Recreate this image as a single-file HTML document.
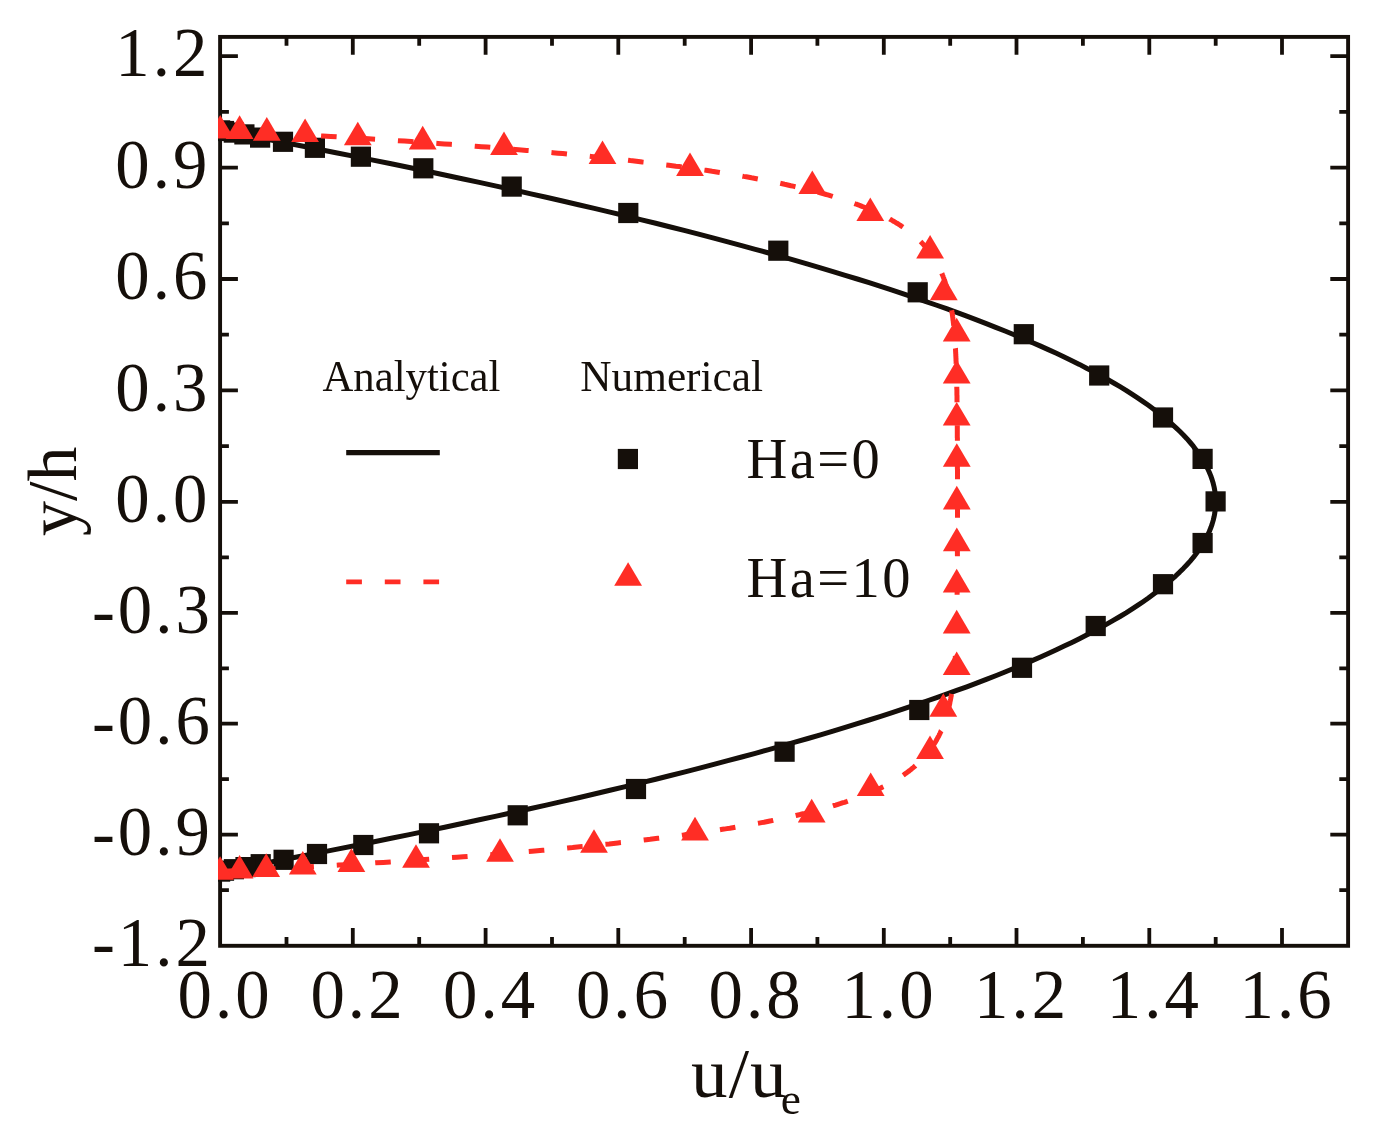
<!DOCTYPE html>
<html lang="en"><head><meta charset="utf-8"><title>Velocity profile</title>
<style>html,body{margin:0;padding:0;background:#fff;overflow:hidden}svg{display:block}text{font-family:"Liberation Serif","Times New Roman",serif;fill:#150f0a}</style>
</head><body>
<svg width="1380" height="1141" viewBox="0 0 1380 1141">
<rect width="1380" height="1141" fill="#ffffff"/>
<g stroke="#150f0a" stroke-width="3.8" fill="none">
<path d="M286.5 945.8V937.0 M286.5 36.9V45.7"/>
<path d="M352.8 945.8V928.0 M352.8 36.9V54.7"/>
<path d="M419.2 945.8V937.0 M419.2 36.9V45.7"/>
<path d="M485.6 945.8V928.0 M485.6 36.9V54.7"/>
<path d="M552.0 945.8V937.0 M552.0 36.9V45.7"/>
<path d="M618.3 945.8V928.0 M618.3 36.9V54.7"/>
<path d="M684.7 945.8V937.0 M684.7 36.9V45.7"/>
<path d="M751.1 945.8V928.0 M751.1 36.9V54.7"/>
<path d="M817.4 945.8V937.0 M817.4 36.9V45.7"/>
<path d="M883.8 945.8V928.0 M883.8 36.9V54.7"/>
<path d="M950.2 945.8V937.0 M950.2 36.9V45.7"/>
<path d="M1016.5 945.8V928.0 M1016.5 36.9V54.7"/>
<path d="M1082.9 945.8V937.0 M1082.9 36.9V45.7"/>
<path d="M1149.3 945.8V928.0 M1149.3 36.9V54.7"/>
<path d="M1215.7 945.8V937.0 M1215.7 36.9V45.7"/>
<path d="M1282.0 945.8V928.0 M1282.0 36.9V54.7"/>
<path d="M220.1 890.1H228.9 M1348.1 890.1H1339.3"/>
<path d="M220.1 834.6H237.9 M1348.1 834.6H1330.3"/>
<path d="M220.1 779.2H228.9 M1348.1 779.2H1339.3"/>
<path d="M220.1 723.7H237.9 M1348.1 723.7H1330.3"/>
<path d="M220.1 668.3H228.9 M1348.1 668.3H1339.3"/>
<path d="M220.1 612.8H237.9 M1348.1 612.8H1330.3"/>
<path d="M220.1 557.4H228.9 M1348.1 557.4H1339.3"/>
<path d="M220.1 501.9H237.9 M1348.1 501.9H1330.3"/>
<path d="M220.1 446.2H228.9 M1348.1 446.2H1339.3"/>
<path d="M220.1 390.4H237.9 M1348.1 390.4H1330.3"/>
<path d="M220.1 334.7H228.9 M1348.1 334.7H1339.3"/>
<path d="M220.1 279.0H237.9 M1348.1 279.0H1330.3"/>
<path d="M220.1 223.3H228.9 M1348.1 223.3H1339.3"/>
<path d="M220.1 167.6H237.9 M1348.1 167.6H1330.3"/>
<path d="M220.1 111.8H228.9 M1348.1 111.8H1339.3"/>
<path d="M220.1 56.1H237.9 M1348.1 56.1H1330.3"/>
</g>
<rect x="220.1" y="36.9" width="1128.0" height="908.9" fill="none" stroke="#150f0a" stroke-width="3.9"/>
<clipPath id="pc"><rect x="218" y="36.9" width="1130.1" height="908.9"/></clipPath>
<g clip-path="url(#pc)">
<polyline fill="none" stroke="#150f0a" stroke-width="5" stroke-linejoin="round" points="220.1,130.4 239.9,134.1 259.5,137.8 278.9,141.5 298.2,145.3 317.2,149.0 336.0,152.7 354.6,156.4 373.0,160.1 391.2,163.8 409.3,167.5 427.1,171.3 444.7,175.0 462.1,178.7 479.3,182.4 496.4,186.1 513.2,189.8 529.8,193.6 546.2,197.3 562.5,201.0 578.5,204.7 594.3,208.4 610.0,212.1 625.4,215.8 640.6,219.6 655.7,223.3 670.5,227.0 685.1,230.7 699.6,234.4 713.8,238.1 727.8,241.8 741.7,245.6 755.3,249.3 768.7,253.0 782.0,256.7 795.0,260.4 807.9,264.1 820.5,267.9 833.0,271.6 845.2,275.3 857.3,279.0 869.1,282.7 880.7,286.4 892.2,290.1 903.4,293.9 914.5,297.6 925.3,301.3 936.0,305.0 946.5,308.7 956.7,312.4 966.8,316.1 976.6,319.9 986.3,323.6 995.7,327.3 1005.0,331.0 1014.1,334.7 1022.9,338.4 1031.6,342.2 1040.0,345.9 1048.3,349.6 1056.4,353.3 1064.2,357.0 1071.9,360.7 1079.4,364.4 1086.6,368.2 1093.7,371.9 1100.6,375.6 1107.2,379.3 1113.7,383.0 1120.0,386.7 1126.1,390.4 1131.9,394.2 1137.6,397.9 1143.1,401.6 1148.4,405.3 1153.4,409.0 1158.3,412.7 1163.0,416.5 1167.5,420.2 1171.7,423.9 1175.8,427.6 1179.7,431.3 1183.4,435.0 1186.9,438.7 1190.2,442.5 1193.3,446.2 1196.1,449.9 1198.8,453.6 1201.3,457.3 1203.6,461.0 1205.7,464.8 1207.6,468.5 1209.3,472.2 1210.8,475.9 1212.1,479.6 1213.2,483.3 1214.1,487.0 1214.8,490.8 1215.3,494.5 1215.6,498.2 1215.7,501.9 1215.6,505.6 1215.3,509.3 1214.8,513.0 1214.1,516.7 1213.2,520.4 1212.1,524.1 1210.8,527.8 1209.3,531.5 1207.6,535.2 1205.7,538.9 1203.6,542.6 1201.3,546.3 1198.8,550.0 1196.1,553.7 1193.3,557.4 1190.2,561.1 1186.9,564.7 1183.4,568.4 1179.7,572.1 1175.8,575.8 1171.7,579.5 1167.5,583.2 1163.0,586.9 1158.3,590.6 1153.4,594.3 1148.4,598.0 1143.1,601.7 1137.6,605.4 1131.9,609.1 1126.1,612.8 1120.0,616.5 1113.7,620.2 1107.2,623.9 1100.6,627.6 1093.7,631.3 1086.6,635.0 1079.4,638.7 1071.9,642.4 1064.2,646.1 1056.4,649.8 1048.3,653.5 1040.0,657.2 1031.6,660.9 1022.9,664.6 1014.1,668.3 1005.0,672.0 995.7,675.7 986.3,679.4 976.6,683.1 966.8,686.8 956.7,690.4 946.5,694.1 936.0,697.8 925.3,701.5 914.5,705.2 903.4,708.9 892.2,712.6 880.7,716.3 869.1,720.0 857.3,723.7 845.2,727.4 833.0,731.1 820.5,734.8 807.9,738.5 795.0,742.2 782.0,745.9 768.7,749.6 755.3,753.3 741.7,757.0 727.8,760.7 713.8,764.4 699.6,768.1 685.1,771.8 670.5,775.5 655.7,779.2 640.6,782.9 625.4,786.6 610.0,790.3 594.3,794.0 578.5,797.7 562.5,801.4 546.2,805.1 529.8,808.8 513.2,812.4 496.4,816.1 479.3,819.8 462.1,823.5 444.7,827.2 427.1,830.9 409.3,834.6 391.2,838.3 373.0,842.0 354.6,845.7 336.0,849.4 317.2,853.1 298.2,856.8 278.9,860.5 259.5,864.2 239.9,867.9 220.1,871.6"/>
<g fill="#150f0a">
<rect x="1205.5" y="491.3" width="20.2" height="20.2"/>
<rect x="1192.5" y="448.8" width="20.2" height="20.2"/>
<rect x="1152.9" y="407.4" width="20.2" height="20.2"/>
<rect x="1089.1" y="365.4" width="20.2" height="20.2"/>
<rect x="1013.7" y="324.1" width="20.2" height="20.2"/>
<rect x="907.6" y="282.2" width="20.2" height="20.2"/>
<rect x="768.2" y="240.6" width="20.2" height="20.2"/>
<rect x="618.2" y="202.9" width="20.2" height="20.2"/>
<rect x="501.6" y="176.5" width="20.2" height="20.2"/>
<rect x="413.2" y="158.2" width="20.2" height="20.2"/>
<rect x="350.8" y="146.6" width="20.2" height="20.2"/>
<rect x="304.8" y="137.7" width="20.2" height="20.2"/>
<rect x="272.9" y="131.7" width="20.2" height="20.2"/>
<rect x="250.0" y="127.5" width="20.2" height="20.2"/>
<rect x="234.3" y="124.3" width="20.2" height="20.2"/>
<rect x="223.7" y="122.5" width="20.2" height="20.2"/>
<rect x="213.9" y="120.9" width="20.2" height="20.2"/>
<rect x="210.0" y="120.3" width="20.2" height="20.2"/>
<rect x="1192.5" y="532.9" width="20.2" height="20.2"/>
<rect x="1152.9" y="574.1" width="20.2" height="20.2"/>
<rect x="1085.6" y="615.9" width="20.2" height="20.2"/>
<rect x="1011.9" y="657.7" width="20.2" height="20.2"/>
<rect x="909.2" y="699.9" width="20.2" height="20.2"/>
<rect x="774.5" y="741.6" width="20.2" height="20.2"/>
<rect x="625.9" y="778.9" width="20.2" height="20.2"/>
<rect x="507.6" y="805.2" width="20.2" height="20.2"/>
<rect x="418.9" y="823.2" width="20.2" height="20.2"/>
<rect x="353.2" y="834.9" width="20.2" height="20.2"/>
<rect x="306.9" y="843.9" width="20.2" height="20.2"/>
<rect x="273.5" y="849.7" width="20.2" height="20.2"/>
<rect x="250.6" y="854.1" width="20.2" height="20.2"/>
<rect x="235.4" y="857.0" width="20.2" height="20.2"/>
<rect x="223.8" y="859.1" width="20.2" height="20.2"/>
<rect x="213.9" y="860.6" width="20.2" height="20.2"/>
<rect x="210.0" y="861.5" width="20.2" height="20.2"/>
</g>
<g fill="none" stroke="#ff2d25" stroke-width="5.0" stroke-dasharray="15.6 22.9">
<polyline stroke-dashoffset="16.0" points="298.6,134.6 306.8,135.0 314.8,135.5 322.8,136.0 330.7,136.4 338.5,136.9 346.2,137.4 353.8,137.8 361.3,138.3 368.7,138.8 376.0,139.2 383.2,139.7 390.4,140.2 397.4,140.6 404.4,141.1 411.2,141.5 418.0,142.0 424.7,142.5 431.3,142.9 437.9,143.4 444.3,143.9 450.7,144.3 457.0,144.8 463.2,145.3 469.4,145.7 475.4,146.2 481.4,146.7 487.3,147.1 493.2,147.6 498.9,148.0 504.6,148.5 510.3,149.0 515.8,149.4 521.3,149.9 526.7,150.4 532.1,150.8 537.4,151.3 542.6,151.8 547.7,152.2 552.8,152.7 557.9,153.2 562.8,153.6 567.7,154.1 572.6,154.5 577.3,155.0 582.1,155.5 586.7,155.9 591.3,156.4 595.9,156.9 600.4,157.3 604.8,157.8 609.2,158.3 613.5,158.7 617.8,159.2 622.0,159.7 626.2,160.1 630.3,160.6 634.4,161.0 638.4,161.5 642.3,162.0 646.3,162.4 650.1,162.9 654.0,163.4 657.7,163.8 661.4,164.3 665.1,164.8 668.8,165.2 672.3,165.7 675.9,166.2 679.4,166.6 682.8,167.1 686.3,167.5 689.6,168.0 693.0,168.5 696.2,168.9 699.5,169.4 702.7,169.9 705.9,170.3 709.0,170.8 712.1,171.3 715.1,171.7 718.1,172.2 721.1,172.7 724.0,173.1 726.9,173.6 729.8,174.1 732.6,174.5 735.4,175.0 738.2,175.4 740.9,175.9 743.6,176.4 746.3,176.8 748.9,177.3 751.5,177.8 754.0,178.2 756.6,178.7 759.1,179.2 761.5,179.6 764.0,180.1 766.4,180.6 768.7,181.0 771.1,181.5 773.4,181.9 775.7,182.4 778.0,182.9 780.2,183.3 782.4,183.8 784.6,184.3 786.7,184.7 788.8,185.2 790.9,185.7 793.0,186.1 795.0,186.6 797.1,187.1 799.1,187.5 801.0,188.0 803.0,188.4 804.9,188.9 806.8,189.4 808.7,189.8 810.5,190.3 812.3,190.8 814.1,191.2 815.9,191.7 817.7,192.2 819.4,192.6 821.1,193.1 822.8,193.6 824.5,194.0 826.2,194.5 827.8,194.9 829.4,195.4 831.0,195.9 832.6,196.3 834.1,196.8 835.6,197.3 837.2,197.7 838.7,198.2 840.1,198.7 841.6,199.1 843.0,199.6 844.5,200.1 845.9,200.5 847.2,201.0 848.6,201.4 850.0,201.9 851.3,202.4 852.6,202.8 853.9,203.3 855.2,203.8 856.5,204.2 857.7,204.7 859.0,205.2 860.2,205.6 861.4,206.1 862.6,206.6 863.8,207.0 865.0,207.5 866.1,208.0 867.2,208.4 868.4,208.9 869.5,209.3 870.6,209.8 871.6,210.3 872.7,210.7 873.8,211.2 874.8,211.7 875.8,212.1 876.8,212.6 877.9,213.1 878.8,213.5 879.8,214.0 880.8,214.5 881.7,214.9 882.7,215.4 883.6,215.8 884.5,216.3 885.4,216.8 886.3,217.2 887.2,217.7 888.1,218.2 889.0,218.6 889.8,219.1 890.6,219.6 891.5,220.0 892.3,220.5 893.1,221.0 893.9,221.4 894.7,221.9 895.5,222.3 896.2,222.8 897.0,223.3 897.8,223.7 898.5,224.2 899.2,224.7 900.0,225.1 900.7,225.6 901.4,226.1 902.1,226.5 902.8,227.0 903.5,227.5 904.1,227.9 904.8,228.4 905.4,228.8 906.1,229.3 906.7,229.8 907.4,230.2 908.0,230.7 908.6,231.2 909.2,231.6 909.8,232.1 910.4,232.6 911.0,233.0 911.6,233.5 912.1,234.0 912.7,234.4 913.3,234.9 913.8,235.3 914.4,235.8 914.9,236.3 915.4,236.7 915.9,237.2 916.5,237.7 917.0,238.1 917.5,238.6 918.0,239.1 918.5,239.5 918.9,240.0 919.4,240.5 919.9,240.9 920.4,241.4 920.8,241.8 921.3,242.3 921.7,242.8 922.2,243.2 922.6,243.7 923.1,244.2 923.5,244.6 923.9,245.1 924.3,245.6 924.7,246.0 925.1,246.5 925.5,247.0 925.9,247.4 926.3,247.9 926.7,248.4 927.1,248.8 927.5,249.3 927.9,249.7 928.2,250.2 928.6,250.7 929.0,251.1 929.3,251.6 929.7,252.1 930.0,252.5 930.3,253.0 930.7,253.5 931.0,253.9 931.3,254.4 931.7,254.9 932.0,255.3 932.3,255.8 932.6,256.2 932.9,256.7 933.2,257.2 933.5,257.6 933.8,258.1 934.1,258.6 934.4,259.0 934.7,259.5 935.0,260.0 935.3,260.4 935.6,260.9 935.8,261.4 936.1,261.8 936.4,262.3 936.6,262.7 936.9,263.2 937.1,263.7 937.4,264.1 937.6,264.6 937.9,265.1 938.1,265.5 938.4,266.0 938.6,266.5 938.9,266.9 939.1,267.4 939.3,267.9 939.5,268.3 939.8,268.8 940.0,269.2 940.2,269.7 940.4,270.2 940.6,270.6 940.8,271.1 941.0,271.6 941.3,272.0 941.5,272.5 941.7,273.0 941.9,273.4 942.0,273.9 942.2,274.4 942.4,274.8 942.6,275.3 942.8,275.7 943.0,276.2 943.2,276.7 943.3,277.1 943.5,277.6 943.7,278.1 943.9,278.5 944.0,279.0 944.2,279.5 944.4,279.9 944.5,280.4 944.7,280.9 944.9,281.3 945.0,281.8 945.2,282.3 945.3,282.7 945.5,283.2 945.6,283.6 945.8,284.1 945.9,284.6 946.1,285.0 946.2,285.5 946.3,286.0 946.5,286.4 946.6,286.9 946.8,287.4 946.9,287.8 947.0,288.3 947.2,288.8 947.3,289.2 947.4,289.7 947.5,290.1 947.7,290.6 947.8,291.1 947.9,291.5 948.0,292.0 948.1,292.5 948.3,292.9 948.4,293.4 948.5,293.9 948.6,294.3 948.7,294.8 948.8,295.3 948.9,295.7 949.0,296.2 949.1,296.6 949.2,297.1 949.4,297.6 949.5,298.0 949.6,298.5 949.7,299.0 949.8,299.4 949.8,299.9 949.9,300.4 950.0,300.8 950.1,301.3 950.2,301.8 950.3,302.2 950.4,302.7 950.5,303.1 950.6,303.6 950.7,304.1 950.8,304.5 950.8,305.0 950.9,305.5 951.0,305.9 951.1,306.4 951.2,306.9 951.2,307.3 951.3,307.8 951.4,308.3 951.5,308.7 951.6,309.2 951.6,309.6 951.7,310.1 951.8,310.6 951.8,311.0 951.9,311.5 952.0,312.0 952.1,312.4 952.1,312.9 952.2,313.4 952.3,313.8 952.3,314.3 952.4,314.8 952.4,315.2 952.5,315.7 952.6,316.1 952.6,316.6 952.7,317.1 952.8,317.5 952.8,318.0 952.9,318.5 952.9,318.9 953.0,319.4 953.0,319.9 953.1,320.3 953.2,320.8 953.2,321.3 953.3,321.7 953.3,322.2 953.4,322.7 953.4,323.1 953.5,323.6 953.5,324.0 953.6,324.5 953.6,325.0 953.7,325.4 953.7,325.9 953.8,326.4 953.8,326.8 953.9,327.3 953.9,327.8 954.0,328.2 954.0,328.7 954.0,329.2 954.1,329.6 954.1,330.1 954.2,330.5 954.2,331.0 954.3,331.5 954.3,331.9 954.3,332.4 954.4,332.9 954.4,333.3 954.5,333.8 954.5,334.3 954.5,334.7 954.6,335.2 954.6,335.7 954.6,336.1 954.7,336.6 954.7,337.0 954.7,337.5 954.8,338.0 954.8,338.4 954.9,338.9 954.9,339.4 954.9,339.8 955.0,340.3 955.0,340.8 955.0,341.2 955.0,341.7 955.1,342.2 955.1,342.6 955.1,343.1 955.2,343.5 955.2,344.0 955.2,344.5 955.3,344.9 955.3,345.4 955.3,345.9 955.3,346.3 955.4,346.8 955.4,347.3 955.4,347.7 955.4,348.2 955.5,348.7 955.5,349.1 955.5,349.6 955.5,350.0 955.6,350.5 955.6,351.0 955.6,351.4 955.6,351.9 955.7,352.4 955.7,352.8 955.7,353.3 955.7,353.8 955.8,354.2 955.8,354.7 955.8,355.2 955.8,355.6 955.8,356.1 955.9,356.6 955.9,357.0 955.9,357.5 955.9,357.9 956.0,358.4 956.0,358.9 956.0,359.3 956.0,359.8 956.0,360.3 956.0,360.7 956.1,361.2 956.1,361.7 956.1,362.1 956.1,362.6 956.1,363.1 956.2,363.5 956.2,364.0 956.2,364.4 956.2,364.9 956.2,365.4 956.2,365.8 956.3,366.3 956.3,366.8 956.3,367.2 956.3,367.7 956.3,368.2 956.3,368.6 956.3,369.1 956.4,369.6 956.4,370.0 956.4,370.5 956.4,370.9 956.4,371.4 956.4,371.9 956.4,372.3 956.5,372.8 956.5,373.3 956.5,373.7 956.5,374.2 956.5,374.7 956.5,375.1 956.5,375.6 956.6,376.1 956.6,376.5 956.6,377.0 956.6,377.4 956.6,377.9 956.6,378.4 956.6,378.8 956.6,379.3 956.6,379.8 956.7,380.2 956.7,380.7 956.7,381.2 956.7,381.6 956.7,382.1 956.7,382.6 956.7,383.0 956.7,383.5 956.7,383.9 956.8,384.4 956.8,384.9 956.8,385.3 956.8,385.8 956.8,386.3 956.8,386.7 956.8,387.2 956.8,387.7 956.8,388.1 956.8,388.6 956.8,389.1 956.9,389.5 956.9,390.0 956.9,390.4 956.9,390.9 956.9,391.4 956.9,391.8 956.9,392.3 956.9,392.8 956.9,393.2 956.9,393.7 956.9,394.2 956.9,394.6 956.9,395.1 957.0,395.6 957.0,396.0 957.0,396.5 957.0,397.0 957.0,397.4 957.0,397.9 957.0,398.3 957.0,398.8 957.0,399.3 957.0,399.7 957.0,400.2 957.0,400.7 957.0,401.1 957.0,401.6 957.1,402.1 957.1,402.5 957.1,403.0 957.1,403.5 957.1,403.9 957.1,404.4 957.1,404.8 957.1,405.3 957.1,405.8 957.1,406.2 957.1,406.7 957.1,407.2 957.1,407.6 957.1,408.1 957.1,408.6 957.1,409.0 957.1,409.5 957.1,410.0 957.1,410.4 957.2,410.9 957.2,411.3 957.2,411.8 957.2,412.3 957.2,412.7 957.2,413.2 957.2,413.7 957.2,414.1 957.2,414.6 957.2,415.1 957.2,415.5 957.2,416.0 957.2,416.5 957.2,416.9 957.2,417.4 957.2,417.8 957.2,418.3 957.2,418.8 957.2,419.2 957.2,419.7 957.2,420.2 957.2,420.6 957.2,421.1 957.2,421.6 957.3,422.0 957.3,422.5 957.3,423.0 957.3,423.4 957.3,423.9 957.3,424.3 957.3,424.8 957.3,425.3 957.3,425.7 957.3,426.2 957.3,426.7 957.3,427.1 957.3,427.6 957.3,428.1 957.3,428.5 957.3,429.0 957.3,429.5 957.3,429.9 957.3,430.4 957.3,430.9 957.3,431.3 957.3,431.8 957.3,432.2 957.3,432.7 957.3,433.2 957.3,433.6 957.3,434.1 957.3,434.6 957.3,435.0 957.3,435.5 957.3,436.0 957.3,436.4 957.3,436.9 957.3,437.4 957.4,437.8 957.4,438.3 957.4,438.7 957.4,439.2 957.4,439.7 957.4,440.1 957.4,440.6 957.4,441.1 957.4,441.5 957.4,442.0 957.4,442.5 957.4,442.9 957.4,443.4 957.4,443.9 957.4,444.3 957.4,444.8 957.4,445.2 957.4,445.7 957.4,446.2 957.4,446.6 957.4,447.1 957.4,447.6 957.4,448.0 957.4,448.5 957.4,449.0 957.4,449.4 957.4,449.9 957.4,450.4 957.4,450.8 957.4,451.3 957.4,451.7 957.4,452.2 957.4,452.7 957.4,453.1 957.4,453.6 957.4,454.1 957.4,454.5 957.4,455.0 957.4,455.5 957.4,455.9 957.4,456.4 957.4,456.9 957.4,457.3 957.4,457.8 957.4,458.2 957.4,458.7 957.4,459.2 957.4,459.6 957.4,460.1 957.4,460.6 957.4,461.0 957.4,461.5 957.4,462.0 957.4,462.4 957.4,462.9 957.4,463.4 957.4,463.8 957.4,464.3 957.4,464.8 957.4,465.2 957.4,465.7 957.4,466.1 957.4,466.6 957.4,467.1 957.4,467.5 957.4,468.0 957.4,468.5 957.4,468.9 957.5,469.4 957.5,469.9 957.5,470.3 957.5,470.8 957.5,471.3 957.5,471.7 957.5,472.2 957.5,472.6 957.5,473.1 957.5,473.6 957.5,474.0 957.5,474.5 957.5,475.0 957.5,475.4 957.5,475.9 957.5,476.4 957.5,476.8 957.5,477.3 957.5,477.8 957.5,478.2 957.5,478.7 957.5,479.1 957.5,479.6 957.5,480.1 957.5,480.5 957.5,481.0 957.5,481.5 957.5,481.9 957.5,482.4 957.5,482.9 957.5,483.3 957.5,483.8 957.5,484.3 957.5,484.7 957.5,485.2 957.5,485.6 957.5,486.1 957.5,486.6 957.5,487.0 957.5,487.5 957.5,488.0 957.5,488.4 957.5,488.9 957.5,489.4 957.5,489.8 957.5,490.3 957.5,490.8 957.5,491.2 957.5,491.7 957.5,492.1 957.5,492.6 957.5,493.1 957.5,493.5 957.5,494.0 957.5,494.5 957.5,494.9 957.5,495.4 957.5,495.9 957.5,496.3 957.5,496.8 957.5,497.3 957.5,497.7 957.5,498.2 957.5,498.6 957.5,499.1 957.5,499.6 957.5,500.0 957.5,500.5 957.5,501.0 957.5,501.4 957.5,501.9 957.5,502.4 957.5,502.8 957.5,503.3 957.5,503.7 957.5,504.2 957.5,504.7 957.5,505.1 957.5,505.6 957.5,506.1 957.5,506.5 957.5,507.0 957.5,507.4 957.5,507.9 957.5,508.4 957.5,508.8 957.5,509.3 957.5,509.8 957.5,510.2 957.5,510.7 957.5,511.1 957.5,511.6 957.5,512.1 957.5,512.5 957.5,513.0 957.5,513.5 957.5,513.9 957.5,514.4 957.5,514.8 957.5,515.3 957.5,515.8 957.5,516.2 957.5,516.7 957.5,517.2 957.5,517.6 957.5,518.1 957.5,518.5 957.5,519.0 957.5,519.5 957.5,519.9 957.5,520.4 957.5,520.8 957.5,521.3 957.5,521.8 957.5,522.2 957.5,522.7 957.5,523.2 957.5,523.6 957.5,524.1 957.5,524.5 957.5,525.0 957.5,525.5 957.5,525.9 957.5,526.4 957.5,526.9 957.5,527.3 957.5,527.8 957.5,528.2 957.5,528.7 957.5,529.2 957.5,529.6 957.5,530.1 957.5,530.6 957.5,531.0 957.5,531.5 957.5,531.9 957.5,532.4 957.5,532.9 957.5,533.3 957.5,533.8 957.5,534.2 957.4,534.7 957.4,535.2 957.4,535.6 957.4,536.1 957.4,536.6 957.4,537.0 957.4,537.5 957.4,537.9 957.4,538.4 957.4,538.9 957.4,539.3 957.4,539.8 957.4,540.3 957.4,540.7 957.4,541.2 957.4,541.6 957.4,542.1 957.4,542.6 957.4,543.0 957.4,543.5 957.4,544.0 957.4,544.4 957.4,544.9 957.4,545.3 957.4,545.8 957.4,546.3 957.4,546.7 957.4,547.2 957.4,547.7 957.4,548.1 957.4,548.6 957.4,549.0 957.4,549.5 957.4,550.0 957.4,550.4 957.4,550.9 957.4,551.3 957.4,551.8 957.4,552.3 957.4,552.7 957.4,553.2 957.4,553.7 957.4,554.1 957.4,554.6 957.4,555.0 957.4,555.5 957.4,556.0 957.4,556.4 957.4,556.9 957.4,557.4 957.4,557.8 957.4,558.3 957.4,558.7 957.4,559.2 957.4,559.7 957.4,560.1 957.4,560.6 957.4,561.1 957.4,561.5 957.4,562.0 957.4,562.4 957.4,562.9 957.4,563.4 957.4,563.8 957.4,564.3 957.4,564.7 957.4,565.2 957.4,565.7 957.3,566.1 957.3,566.6 957.3,567.1 957.3,567.5 957.3,568.0 957.3,568.4 957.3,568.9 957.3,569.4 957.3,569.8 957.3,570.3 957.3,570.8 957.3,571.2 957.3,571.7 957.3,572.1 957.3,572.6 957.3,573.1 957.3,573.5 957.3,574.0 957.3,574.5 957.3,574.9 957.3,575.4 957.3,575.8 957.3,576.3 957.3,576.8 957.3,577.2 957.3,577.7 957.3,578.2 957.3,578.6 957.3,579.1 957.3,579.5 957.3,580.0 957.3,580.5 957.3,580.9 957.3,581.4 957.2,581.8 957.2,582.3 957.2,582.8 957.2,583.2 957.2,583.7 957.2,584.2 957.2,584.6 957.2,585.1 957.2,585.5 957.2,586.0 957.2,586.5 957.2,586.9 957.2,587.4 957.2,587.9 957.2,588.3 957.2,588.8 957.2,589.2 957.2,589.7 957.2,590.2 957.2,590.6 957.2,591.1 957.2,591.6 957.2,592.0 957.2,592.5 957.1,592.9 957.1,593.4 957.1,593.9 957.1,594.3 957.1,594.8 957.1,595.2 957.1,595.7 957.1,596.2 957.1,596.6 957.1,597.1 957.1,597.6 957.1,598.0 957.1,598.5 957.1,598.9 957.1,599.4 957.1,599.9 957.1,600.3 957.1,600.8 957.1,601.3 957.0,601.7 957.0,602.2 957.0,602.6 957.0,603.1 957.0,603.6 957.0,604.0 957.0,604.5 957.0,605.0 957.0,605.4 957.0,605.9 957.0,606.3 957.0,606.8 957.0,607.3 957.0,607.7 956.9,608.2 956.9,608.7 956.9,609.1 956.9,609.6 956.9,610.0 956.9,610.5 956.9,611.0 956.9,611.4 956.9,611.9 956.9,612.3 956.9,612.8 956.9,613.3 956.9,613.7 956.8,614.2 956.8,614.7 956.8,615.1 956.8,615.6 956.8,616.0 956.8,616.5 956.8,617.0 956.8,617.4 956.8,617.9 956.8,618.4 956.8,618.8 956.7,619.3 956.7,619.7 956.7,620.2 956.7,620.7 956.7,621.1 956.7,621.6 956.7,622.1 956.7,622.5 956.7,623.0 956.6,623.4 956.6,623.9 956.6,624.4 956.6,624.8 956.6,625.3 956.6,625.7 956.6,626.2 956.6,626.7 956.6,627.1 956.5,627.6 956.5,628.1 956.5,628.5 956.5,629.0 956.5,629.4 956.5,629.9 956.5,630.4 956.4,630.8 956.4,631.3 956.4,631.8 956.4,632.2 956.4,632.7 956.4,633.1 956.4,633.6 956.3,634.1 956.3,634.5 956.3,635.0 956.3,635.5 956.3,635.9 956.3,636.4 956.3,636.8 956.2,637.3 956.2,637.8 956.2,638.2 956.2,638.7 956.2,639.2 956.2,639.6 956.1,640.1 956.1,640.5 956.1,641.0 956.1,641.5 956.1,641.9 956.0,642.4 956.0,642.8 956.0,643.3 956.0,643.8 956.0,644.2 956.0,644.7 955.9,645.2 955.9,645.6 955.9,646.1 955.9,646.5 955.8,647.0 955.8,647.5 955.8,647.9 955.8,648.4 955.8,648.9 955.7,649.3 955.7,649.8 955.7,650.2 955.7,650.7 955.6,651.2 955.6,651.6 955.6,652.1 955.6,652.6 955.5,653.0 955.5,653.5 955.5,653.9 955.5,654.4 955.4,654.9 955.4,655.3 955.4,655.8 955.4,656.2 955.3,656.7 955.3,657.2 955.3,657.6 955.3,658.1 955.2,658.6 955.2,659.0 955.2,659.5 955.1,659.9 955.1,660.4 955.1,660.9 955.0,661.3 955.0,661.8 955.0,662.3 955.0,662.7 954.9,663.2 954.9,663.6 954.9,664.1 954.8,664.6 954.8,665.0 954.7,665.5 954.7,666.0 954.7,666.4 954.6,666.9 954.6,667.3 954.6,667.8 954.5,668.3 954.5,668.7 954.5,669.2 954.4,669.7 954.4,670.1 954.3,670.6 954.3,671.0 954.3,671.5 954.2,672.0 954.2,672.4 954.1,672.9 954.1,673.3 954.0,673.8 954.0,674.3 954.0,674.7 953.9,675.2 953.9,675.7 953.8,676.1 953.8,676.6 953.7,677.0 953.7,677.5 953.6,678.0 953.6,678.4 953.5,678.9 953.5,679.4 953.4,679.8 953.4,680.3 953.3,680.7 953.3,681.2 953.2,681.7 953.2,682.1 953.1,682.6 953.0,683.1 953.0,683.5 952.9,684.0 952.9,684.4 952.8,684.9 952.8,685.4 952.7,685.8 952.6,686.3 952.6,686.8 952.5,687.2 952.4,687.7 952.4,688.1 952.3,688.6 952.3,689.1 952.2,689.5 952.1,690.0 952.1,690.4 952.0,690.9 951.9,691.4 951.8,691.8 951.8,692.3 951.7,692.8 951.6,693.2 951.6,693.7 951.5,694.1 951.4,694.6 951.3,695.1 951.2,695.5 951.2,696.0 951.1,696.5 951.0,696.9 950.9,697.4 950.8,697.8 950.8,698.3 950.7,698.8 950.6,699.2 950.5,699.7 950.4,700.2 950.3,700.6 950.2,701.1 950.1,701.5 950.0,702.0 949.9,702.5 949.8,702.9 949.8,703.4 949.7,703.8 949.6,704.3 949.5,704.8 949.4,705.2 949.2,705.7 949.1,706.2 949.0,706.6 948.9,707.1 948.8,707.5 948.7,708.0 948.6,708.5 948.5,708.9 948.4,709.4 948.3,709.9 948.1,710.3 948.0,710.8 947.9,711.2 947.8,711.7 947.7,712.2 947.5,712.6 947.4,713.1 947.3,713.6 947.2,714.0 947.0,714.5 946.9,714.9 946.8,715.4 946.6,715.9 946.5,716.3 946.3,716.8 946.2,717.3 946.1,717.7 945.9,718.2 945.8,718.6 945.6,719.1 945.5,719.6 945.3,720.0 945.2,720.5 945.0,720.9 944.9,721.4 944.7,721.9 944.5,722.3 944.4,722.8 944.2,723.3 944.0,723.7 943.9,724.2 943.7,724.6 943.5,725.1 943.3,725.6 943.2,726.0 943.0,726.5 942.8,727.0 942.6,727.4 942.4,727.9 942.2,728.3 942.0,728.8 941.9,729.3 941.7,729.7 941.5,730.2 941.3,730.7 941.0,731.1 940.8,731.6 940.6,732.0 940.4,732.5 940.2,733.0 940.0,733.4 939.8,733.9 939.5,734.3 939.3,734.8 939.1,735.3 938.9,735.7 938.6,736.2 938.4,736.7 938.1,737.1 937.9,737.6 937.6,738.0 937.4,738.5 937.1,739.0 936.9,739.4 936.6,739.9 936.4,740.4 936.1,740.8 935.8,741.3 935.6,741.7 935.3,742.2 935.0,742.7 934.7,743.1 934.4,743.6 934.1,744.1 933.8,744.5 933.5,745.0 933.2,745.4 932.9,745.9 932.6,746.4 932.3,746.8 932.0,747.3 931.7,747.8 931.3,748.2 931.0,748.7 930.7,749.1 930.3,749.6 930.0,750.1 929.7,750.5 929.3,751.0 929.0,751.4 928.6,751.9 928.2,752.4 927.9,752.8"/>
<polyline stroke-dashoffset="20.5" points="927.9,752.8 927.5,753.3 927.1,753.8 926.7,754.2 926.3,754.7 925.9,755.1 925.5,755.6 925.1,756.1 924.7,756.5 924.3,757.0 923.9,757.5 923.5,757.9 923.1,758.4 922.6,758.8 922.2,759.3 921.7,759.8 921.3,760.2 920.8,760.7 920.4,761.2 919.9,761.6 919.4,762.1 918.9,762.5 918.5,763.0 918.0,763.5 917.5,763.9 917.0,764.4 916.5,764.8 915.9,765.3 915.4,765.8 914.9,766.2 914.4,766.7 913.8,767.2 913.3,767.6 912.7,768.1 912.1,768.5 911.6,769.0 911.0,769.5 910.4,769.9 909.8,770.4 909.2,770.9 908.6,771.3 908.0,771.8 907.4,772.2 906.7,772.7 906.1,773.2 905.4,773.6 904.8,774.1 904.1,774.6 903.5,775.0 902.8,775.5 902.1,775.9 901.4,776.4 900.7,776.9 900.0,777.3 899.2,777.8 898.5,778.3 897.8,778.7 897.0,779.2 896.2,779.6 895.5,780.1 894.7,780.6 893.9,781.0 893.1,781.5 892.3,781.9 891.5,782.4 890.6,782.9 889.8,783.3 889.0,783.8 888.1,784.3 887.2,784.7 886.3,785.2 885.4,785.6 884.5,786.1 883.6,786.6 882.7,787.0 881.7,787.5 880.8,788.0 879.8,788.4 878.8,788.9 877.9,789.3 876.8,789.8 875.8,790.3 874.8,790.7 873.8,791.2 872.7,791.7 871.6,792.1 870.6,792.6 869.5,793.0 868.4,793.5 867.2,794.0 866.1,794.4 865.0,794.9 863.8,795.3 862.6,795.8 861.4,796.3 860.2,796.7 859.0,797.2 857.7,797.7 856.5,798.1 855.2,798.6 853.9,799.0 852.6,799.5 851.3,800.0 850.0,800.4 848.6,800.9 847.2,801.4 845.9,801.8 844.5,802.3 843.0,802.7 841.6,803.2 840.1,803.7 838.7,804.1 837.2,804.6 835.6,805.1 834.1,805.5 832.6,806.0 831.0,806.4 829.4,806.9 827.8,807.4 826.2,807.8 824.5,808.3 822.8,808.8 821.1,809.2 819.4,809.7 817.7,810.1 815.9,810.6 814.1,811.1 812.3,811.5 810.5,812.0 808.7,812.4 806.8,812.9 804.9,813.4 803.0,813.8 801.0,814.3 799.1,814.8 797.1,815.2 795.0,815.7 793.0,816.1 790.9,816.6 788.8,817.1 786.7,817.5 784.6,818.0 782.4,818.5 780.2,818.9 778.0,819.4 775.7,819.8 773.4,820.3 771.1,820.8 768.7,821.2 766.4,821.7 764.0,822.2 761.5,822.6 759.1,823.1 756.6,823.5 754.0,824.0 751.5,824.5 748.9,824.9 746.3,825.4 743.6,825.8 740.9,826.3 738.2,826.8 735.4,827.2 732.6,827.7 729.8,828.2 726.9,828.6 724.0,829.1 721.1,829.5 718.1,830.0 715.1,830.5 712.1,830.9 709.0,831.4 705.9,831.9 702.7,832.3 699.5,832.8 696.2,833.2 693.0,833.7 689.6,834.2 686.3,834.6 682.8,835.1 679.4,835.6 675.9,836.0 672.3,836.5 668.8,836.9 665.1,837.4 661.4,837.9 657.7,838.3 654.0,838.8 650.1,839.3 646.3,839.7 642.3,840.2 638.4,840.6 634.4,841.1 630.3,841.6 626.2,842.0 622.0,842.5 617.8,842.9 613.5,843.4 609.2,843.9 604.8,844.3 600.4,844.8 595.9,845.3 591.3,845.7 586.7,846.2 582.1,846.6 577.3,847.1 572.6,847.6 567.7,848.0 562.8,848.5 557.9,849.0 552.8,849.4 547.7,849.9 542.6,850.3 537.4,850.8 532.1,851.3 526.7,851.7 521.3,852.2 515.8,852.7 510.3,853.1 504.6,853.6 498.9,854.0 493.2,854.5 487.3,855.0 481.4,855.4 475.4,855.9 469.4,856.3 463.2,856.8 457.0,857.3 450.7,857.7 444.3,858.2 437.9,858.7 431.3,859.1 424.7,859.6 418.0,860.0 411.2,860.5 404.4,861.0 397.4,861.4 390.4,861.9 383.2,862.4 376.0,862.8 368.7,863.3 361.3,863.7 353.8,864.2 346.2,864.7 338.5,865.1 330.7,865.6 322.8,866.1 314.8,866.5 306.8,867.0 298.6,867.4 290.3,867.9 281.9,868.4 273.4,868.8 264.8,869.3 256.1,869.8 247.2,870.2 238.3,870.7 229.3,871.1 220.1,871.6"/>
</g>
<g fill="#ff2d25">
<path d="M220.2 114.9L234.1 138.5L206.3 138.5Z"/>
<path d="M239.6 115.3L253.5 138.9L225.7 138.9Z"/>
<path d="M266.8 117.1L280.7 140.7L252.9 140.7Z"/>
<path d="M305.1 118.5L319.0 142.1L291.2 142.1Z"/>
<path d="M357.8 121.7L371.7 145.3L343.9 145.3Z"/>
<path d="M422.7 125.8L436.6 149.4L408.8 149.4Z"/>
<path d="M504.0 131.5L517.9 155.1L490.1 155.1Z"/>
<path d="M602.5 140.5L616.4 164.1L588.6 164.1Z"/>
<path d="M690.0 152.5L703.9 176.1L676.1 176.1Z"/>
<path d="M812.3 170.5L826.2 194.1L798.4 194.1Z"/>
<path d="M870.3 197.4L884.2 221.0L856.4 221.0Z"/>
<path d="M930.1 234.9L944.0 258.5L916.2 258.5Z"/>
<path d="M943.8 276.6L957.7 300.2L929.9 300.2Z"/>
<path d="M956.7 317.8L970.6 341.4L942.8 341.4Z"/>
<path d="M956.7 359.9L970.6 383.5L942.8 383.5Z"/>
<path d="M956.7 401.9L970.6 425.5L942.8 425.5Z"/>
<path d="M956.8 443.2L970.7 466.8L942.9 466.8Z"/>
<path d="M956.8 485.8L970.7 509.4L942.9 509.4Z"/>
<path d="M956.8 527.6L970.7 551.2L942.9 551.2Z"/>
<path d="M956.7 568.8L970.6 592.4L942.8 592.4Z"/>
<path d="M956.7 609.8L970.6 633.4L942.8 633.4Z"/>
<path d="M956.7 651.5L970.6 675.1L942.8 675.1Z"/>
<path d="M943.3 693.2L957.2 716.8L929.4 716.8Z"/>
<path d="M930.0 735.5L943.9 759.1L916.1 759.1Z"/>
<path d="M870.7 772.5L884.6 796.1L856.8 796.1Z"/>
<path d="M811.7 798.8L825.6 822.4L797.8 822.4Z"/>
<path d="M695.0 816.8L708.9 840.4L681.1 840.4Z"/>
<path d="M594.0 829.2L607.9 852.8L580.1 852.8Z"/>
<path d="M500.0 838.2L513.9 861.8L486.1 861.8Z"/>
<path d="M416.0 844.2L429.9 867.8L402.1 867.8Z"/>
<path d="M351.4 848.3L365.3 871.9L337.5 871.9Z"/>
<path d="M302.8 851.0L316.7 874.6L288.9 874.6Z"/>
<path d="M266.2 853.3L280.1 876.9L252.3 876.9Z"/>
<path d="M239.6 855.0L253.5 878.6L225.7 878.6Z"/>
<path d="M220.1 856.2L234.0 879.8L206.2 879.8Z"/>
</g>
</g>
<line x1="346.2" y1="452.7" x2="439.8" y2="452.7" stroke="#150f0a" stroke-width="5.2"/>
<line x1="346.2" y1="581.9" x2="439.2" y2="581.9" stroke="#ff2d25" stroke-width="4.9" stroke-dasharray="15.7 22.9"/>
<rect x="617.8" y="448.9" width="20.2" height="20.2" fill="#150f0a"/>
<g fill="#ff2d25"><path d="M628.1 562.2L642.0 585.8L614.2 585.8Z"/></g>
<text transform="translate(322.5 391.4) scale(0.9870 1)" font-size="43.3" text-anchor="start" fill="#000">Analytical</text>
<text transform="translate(580.3 391.4) scale(1.0000 1)" font-size="43.3" text-anchor="start" fill="#000">Numerical</text>
<text transform="translate(746.6 477.9) scale(1.0000 1)" font-size="56.5" text-anchor="start" letter-spacing="2.40">Ha=0</text>
<text transform="translate(746.6 596.7) scale(1.0000 1)" font-size="56.5" text-anchor="start" letter-spacing="2.40">Ha=10</text>
<text transform="translate(225.2 1017.8) scale(0.9900 1)" font-size="69.5" text-anchor="middle" letter-spacing="3.10">0.0</text>
<text transform="translate(358.0 1017.8) scale(0.9900 1)" font-size="69.5" text-anchor="middle" letter-spacing="3.10">0.2</text>
<text transform="translate(490.7 1017.8) scale(0.9900 1)" font-size="69.5" text-anchor="middle" letter-spacing="3.10">0.4</text>
<text transform="translate(623.5 1017.8) scale(0.9900 1)" font-size="69.5" text-anchor="middle" letter-spacing="3.10">0.6</text>
<text transform="translate(756.2 1017.8) scale(0.9900 1)" font-size="69.5" text-anchor="middle" letter-spacing="3.10">0.8</text>
<text transform="translate(889.0 1017.8) scale(0.9900 1)" font-size="69.5" text-anchor="middle" letter-spacing="3.10">1.0</text>
<text transform="translate(1021.7 1017.8) scale(0.9900 1)" font-size="69.5" text-anchor="middle" letter-spacing="3.10">1.2</text>
<text transform="translate(1154.4 1017.8) scale(0.9900 1)" font-size="69.5" text-anchor="middle" letter-spacing="3.10">1.4</text>
<text transform="translate(1287.2 1017.8) scale(0.9900 1)" font-size="69.5" text-anchor="middle" letter-spacing="3.10">1.6</text>
<text transform="translate(0 965.6) scale(0.9900 1)" font-size="69.5"><tspan x="93.0" dy="0.8">-</tspan><tspan x="215.2" dy="-0.8" text-anchor="end" letter-spacing="3.10">1.2</tspan></text>
<text transform="translate(0 854.7) scale(0.9900 1)" font-size="69.5"><tspan x="93.0" dy="0.8">-</tspan><tspan x="215.2" dy="-0.8" text-anchor="end" letter-spacing="3.10">0.9</tspan></text>
<text transform="translate(0 743.8) scale(0.9900 1)" font-size="69.5"><tspan x="93.0" dy="0.8">-</tspan><tspan x="215.2" dy="-0.8" text-anchor="end" letter-spacing="3.10">0.6</tspan></text>
<text transform="translate(0 632.9) scale(0.9900 1)" font-size="69.5"><tspan x="93.0" dy="0.8">-</tspan><tspan x="215.2" dy="-0.8" text-anchor="end" letter-spacing="3.10">0.3</tspan></text>
<text transform="translate(210.5 522.0) scale(0.9900 1)" font-size="69.5" text-anchor="end" letter-spacing="3.10">0.0</text>
<text transform="translate(210.5 410.6) scale(0.9900 1)" font-size="69.5" text-anchor="end" letter-spacing="3.10">0.3</text>
<text transform="translate(210.5 299.1) scale(0.9900 1)" font-size="69.5" text-anchor="end" letter-spacing="3.10">0.6</text>
<text transform="translate(210.5 187.7) scale(0.9900 1)" font-size="69.5" text-anchor="end" letter-spacing="3.10">0.9</text>
<text transform="translate(210.5 76.2) scale(0.9900 1)" font-size="69.5" text-anchor="end" letter-spacing="3.10">1.2</text>
<text transform="translate(691.0 1096.7) scale(1.0450 1)" font-size="70.0" text-anchor="start" letter-spacing="1.05">u/u</text>
<text transform="translate(780.8 1114.2) scale(1.0450 1)" font-size="43.5" text-anchor="start">e</text>
<text transform="translate(75.9 536) rotate(-90)" font-size="70">y/h</text>
</svg>
</body></html>
